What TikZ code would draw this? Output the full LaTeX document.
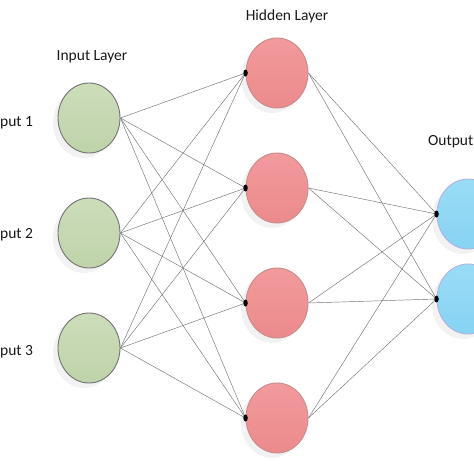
\documentclass[tikz,border=0pt]{standalone}
\usepackage{fontspec}
\setmainfont{Carlito}
\usetikzlibrary{shadows,shapes.geometric}
\definecolor{ingreen}{HTML}{BFD3AA}
\definecolor{ingreenL}{HTML}{CCDDBA}
\definecolor{hidpink}{HTML}{EC8A8C}
\definecolor{hidpinkL}{HTML}{F29A9C}
\definecolor{outblue}{HTML}{86D3F3}
\definecolor{outblueL}{HTML}{9ADCF6}
\tikzset{
  neuron/.style={ellipse, minimum width=62pt, minimum height=70pt, inner sep=0pt, line width=0.9pt,
    drop shadow={shadow xshift=-5pt, shadow yshift=-5pt, opacity=0.10}},
  innode/.style={neuron, draw=black!55, top color=ingreenL, bottom color=ingreen},
  hidnode/.style={neuron, draw=black!50!red!45, top color=hidpinkL, bottom color=hidpink},
  outnode/.style={neuron, draw=black!40!blue!30, top color=outblueL, bottom color=outblue},
  link/.style={draw=black!55, line width=0.45pt},
  lbl/.style={font=\fontsize{15.5}{18}\selectfont, text=black!90},
}
\begin{document}
\begin{tikzpicture}[x=1pt,y=-1pt]
\useasboundingbox (0,0) rectangle (474,474);
\node[innode] (i1) at (89,118) {};
\node[innode] (i2) at (89,233) {};
\node[innode] (i3) at (89,348) {};
\node[hidnode] (h1) at (277,73) {};
\node[hidnode] (h2) at (277,188) {};
\node[hidnode] (h3) at (277,303) {};
\node[hidnode] (h4) at (277,418) {};
\node[outnode] (o1) at (468,214) {};
\node[outnode] (o2) at (468,299) {};
\foreach \i in {1,2,3}{\foreach \h in {1,2,3,4}{\draw[link] (i\i.east) -- (h\h.west);}}
\foreach \h in {1,2,3,4}{\foreach \o in {1,2}{\draw[link] (h\h.east) -- (o\o.west);}}
\foreach \h in {1,2,3,4}{\fill[black] (h\h.west) ellipse (2.2pt and 3.5pt);}
\foreach \o in {1,2}{\fill[black] (o\o.west) ellipse (2.2pt and 3.5pt);}
\node[lbl] (tin) at (92,57) {Input Layer};
\node[lbl] (thid) at (287,16) {Hidden Layer};
\node[lbl, anchor=east, inner sep=0pt] (tout) at (473.5,142) {Output};
\node[lbl, anchor=west, inner sep=0pt] (l1) at (0,123) {put 1};
\node[lbl, anchor=west, inner sep=0pt] (l2) at (0,235) {put 2};
\node[lbl, anchor=west, inner sep=0pt] (l3) at (0,352) {put 3};
\end{tikzpicture}
\end{document}
